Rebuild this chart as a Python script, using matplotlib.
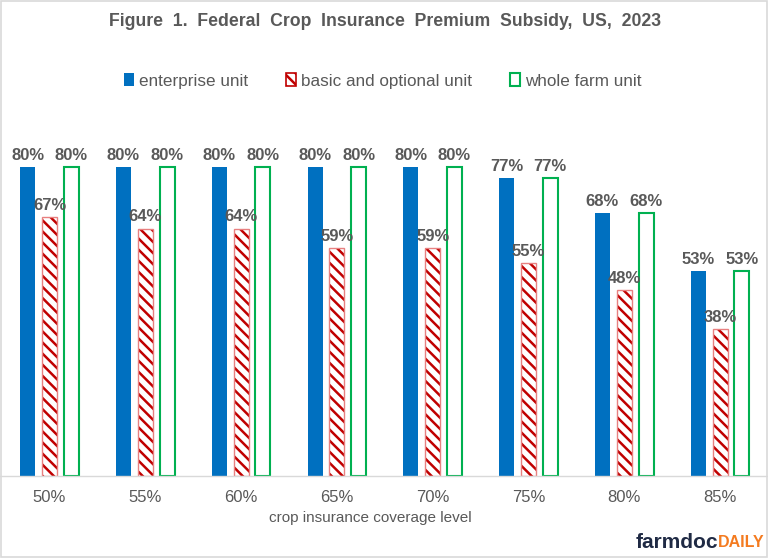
import matplotlib
matplotlib.use("Agg")
import matplotlib.pyplot as plt
from matplotlib.patches import Rectangle, Patch
import numpy as np

categories = ["50%", "55%", "60%", "65%", "70%", "75%", "80%", "85%"]
enterprise = [80, 80, 80, 80, 80, 77, 68, 53]
basic_optional = [67, 64, 64, 59, 59, 55, 48, 38]
whole_farm = [80, 80, 80, 80, 80, 77, 68, 53]
series_names = ["enterprise unit", "basic and optional unit", "whole farm unit"]

plt.rcParams['font.family'] = ['Liberation Sans', 'DejaVu Sans']
plt.rcParams['hatch.linewidth'] = 1.8

gray = '#595959'
blue = '#0070C0'
red = '#C00000'
green = '#00B050'

fig = plt.figure(figsize=(7.68, 5.58), dpi=100)
ax = fig.add_axes([0.0, 0.147, 1.0, 0.6927])

x = np.arange(len(categories))
w = 0.157
off = 0.228
b1 = ax.bar(x - off, enterprise, w, color=blue, label=series_names[0])
b2 = ax.bar(x, basic_optional, w, facecolor='white', edgecolor=red,
            hatch='\\\\\\', linewidth=0, label=series_names[1])
ax.bar(x, basic_optional, w, fill=False, edgecolor='#E88080', linewidth=1.0)
b3 = ax.bar(x + off, whole_farm, w, facecolor='white', edgecolor=green,
            linewidth=1.5, label=series_names[2])

for bars, vals in [(b1, enterprise), (b2, basic_optional), (b3, whole_farm)]:
    for r, v in zip(bars, vals):
        ax.annotate(f"{v}%", (r.get_x() + r.get_width() / 2, v),
                    xytext=(0, 3), textcoords='offset points',
                    ha='center', va='bottom', fontsize=12, fontweight='bold',
                    color=gray)

ax.set_xlim(-0.517, 7.5)
ax.set_ylim(0, 100)
ax.set_yticks([])
ax.set_xticks(x)
ax.set_xticklabels(categories, fontsize=12, color=gray)
ax.tick_params(axis='x', length=0, pad=10)
for s in ['top', 'right', 'left']:
    ax.spines[s].set_visible(False)
ax.spines['bottom'].set_color('#D9D9D9')
ax.spines['bottom'].set_linewidth(1.0)

fig.text(0.482, 0.071, "crop insurance coverage level", ha='center',
         va='center', fontsize=11, color=gray)

fig.text(0.501, 0.962, "Figure  1.  Federal  Crop  Insurance  Premium  Subsidy,  US,  2023",
         ha='center', va='center', fontsize=12.7, fontweight='bold', color=gray)

h2 = Patch(facecolor='white', edgecolor=red, hatch='\\\\\\', linewidth=1.2,
           label=series_names[1])
leg = fig.legend(handles=[b1, h2, b3], loc='center', bbox_to_anchor=(0.498, 0.855),
                 ncol=3, frameon=False, labelcolor=gray,
                 prop={'size': 12.3},
                 handlelength=0.6, handleheight=0.75, handletextpad=0.3,
                 columnspacing=2.2)

fig.text(0.935, 0.027, "farmdoc", ha='right', va='center', fontsize=15,
         fontweight='bold', color='#1F2A44')
fig.text(0.935, 0.027, "DAILY", ha='left', va='center', fontsize=11.5,
         fontweight='bold', color='#F47B20')

fig.patches.append(Rectangle((0.001, 0.001), 0.998, 0.998, transform=fig.transFigure,
                             fill=False, edgecolor='#D9D9D9', linewidth=1.2))

fig.savefig("out.png", dpi=100)
